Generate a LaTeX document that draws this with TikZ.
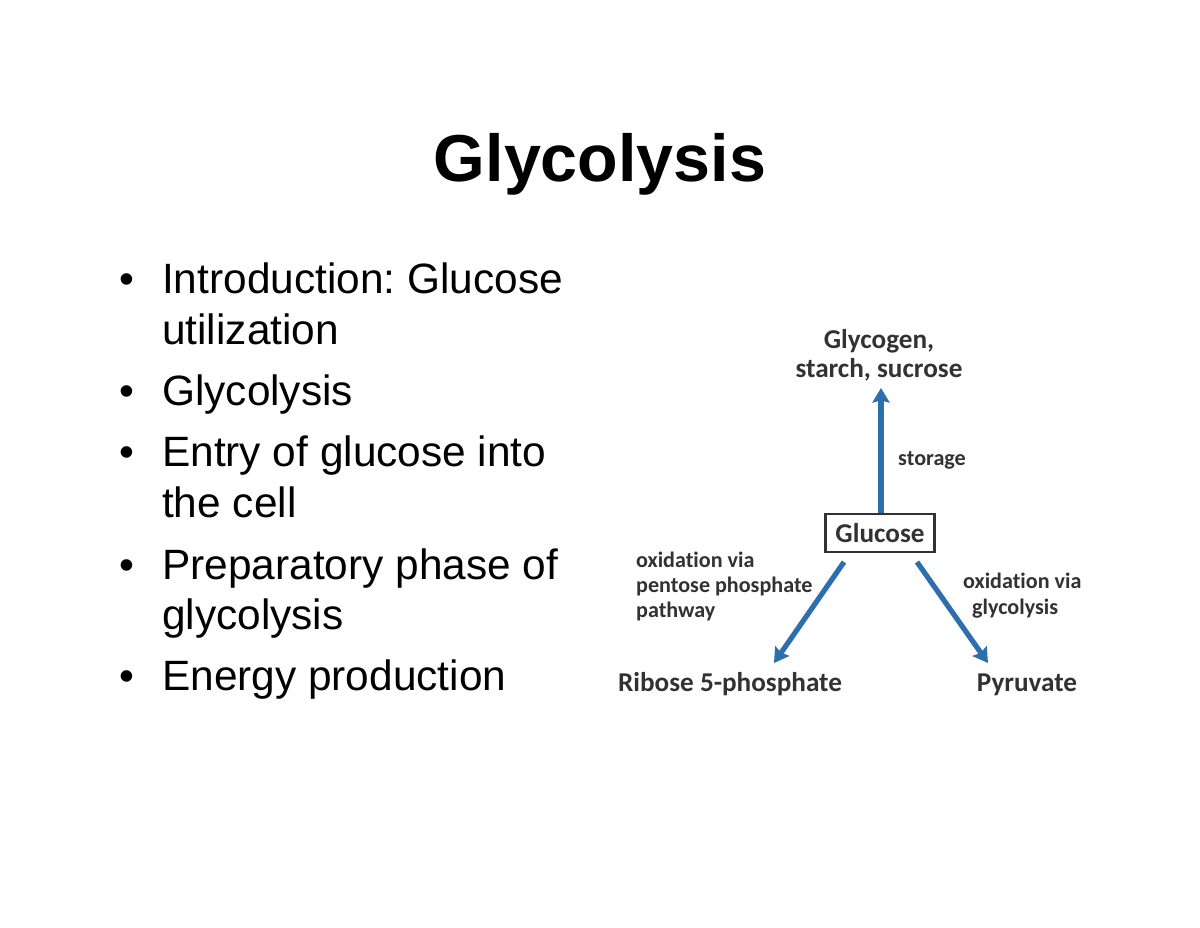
\documentclass[tikz,border=0pt]{standalone}
\usepackage{fontspec}
\setmainfont{Liberation Sans}
\newfontfamily\diag[Ligatures=NoCommon]{Carlito}
\usetikzlibrary{arrows.meta}
\definecolor{flow}{RGB}{45,110,175}
\definecolor{ink}{RGB}{50,50,50}
\tikzset{
 body/.style={anchor=base west,font=\frenchspacing\fontsize{42.4}{42.4}\selectfont,inner sep=0pt,text=black},
 lab/.style={font=\diag\bfseries\fontsize{22.1}{25.2}\selectfont,text=ink,inner sep=0pt,align=left},
 big/.style={font=\diag\bfseries\fontsize{27.2}{29}\selectfont,text=ink,inner sep=0pt},
 arr/.style={draw=flow,line width=5.2pt,-{Stealth[length=14.5pt,width=17pt,inset=2pt]}}
}
\begin{document}
\begin{tikzpicture}[x=1pt,y=-1pt]
\useasboundingbox (0,0) rectangle (1200,927);
\fill[white] (0,0) rectangle (1200,927);
\node[anchor=base,inner sep=0pt,font=\bfseries\fontsize{66.4}{66.4}\selectfont] (title) at (600,181.5) {Glycolysis};
\node[body] (b1) at (119,293) {•};
\node[body] (t1) at (162,293) {Introduction: Glucose};
\node[body] (t1b) at (162,344.5) {utilization};
\node[body] (b2) at (119,405.5) {•};
\node[body] (t2) at (162,405.5) {Glycolysis};
\node[body] (b3) at (119,466.5) {•};
\node[body] (t3) at (162,466.5) {Entry of glucose into};
\node[body] (t3b) at (162,517) {the cell};
\node[body] (b4) at (119,579) {•};
\node[body] (t4) at (162,579) {Preparatory phase of};
\node[body] (t4b) at (162,629.5) {glycolysis};
\node[body] (b5) at (119,690) {•};
\node[body] (t5) at (162,690) {Energy production};
\node[big,anchor=base,align=center] (gly) at (879,377.5) {Glycogen,\\starch, sucrose};
\node[lab,anchor=base west] (sto) at (898,465) {storage};
\node[big,draw=ink,line width=2.6pt,minimum width=109pt,minimum height=38pt] (glu) at (880,533) {Glucose};
\node[lab,anchor=base west] (ox1) at (636,617.5) {oxidation via\\pentose phosphate\\pathway};
\node[lab,anchor=base west] (ox2) at (963,614) {oxidation via\\\hspace*{9pt}glycolysis};
\node[big,anchor=base] (rib) at (730,691.5) {Ribose 5-phosphate};
\node[big,anchor=base] (pyr) at (1027,691.5) {Pyruvate};
\coordinate (ga) at (881,388);
\coordinate (ra) at (774,663);
\coordinate (pa) at (988,663);
\coordinate (rs) at (844,562);
\coordinate (ps) at (917,562);
\draw[arr] (glu.north -| ga) -- (ga);
\draw[arr] (rs) -- (ra);
\draw[arr] (ps) -- (pa);
\end{tikzpicture}
\end{document}
